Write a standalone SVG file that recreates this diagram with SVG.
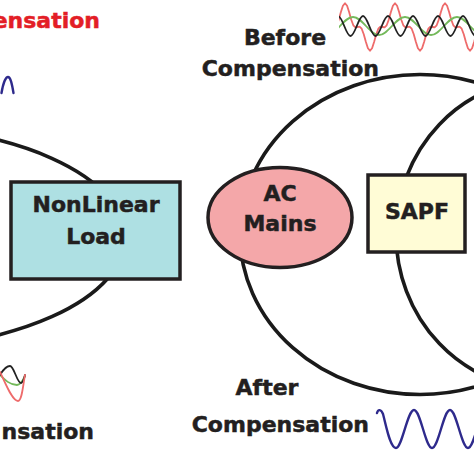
<svg xmlns="http://www.w3.org/2000/svg" xmlns:xlink="http://www.w3.org/1999/xlink" width="474" height="474" viewBox="0 0 474 474">
<style>
.lbl{font-family:"DejaVu Sans","Liberation Sans",sans-serif;font-weight:bold;font-size:22px;fill:#231f20;stroke:#231f20;stroke-width:0.5}
.red{fill:#e31e26;stroke:#e31e26}
.conn{fill:none;stroke:#1a1a1a;stroke-width:3.6}
.box{stroke:#231f20;stroke-width:3.5}
.wave{fill:none;stroke-width:1.8;stroke-linejoin:round;stroke-linecap:round}
.blue{stroke:#2e2a8c;stroke-width:2.4}
.wr{stroke:#ee6b6b}
.wk{stroke:#222222}
.wg{stroke:#74b95b}
</style>
<defs>
<polyline id="redp" class="wave wr" points="0,27 2.08,27.4 4.17,25.3 6.25,19.8 8.33,12.3 10.42,5.8 12.5,3.2 14.58,5.8 16.67,12.3 18.75,19.8 20.83,25.3 22.92,27.4 25,27 27.08,26.6 29.17,28.7 31.25,34.2 33.33,41.7 35.42,48.2 37.5,50.8 39.58,48.2 41.67,41.7 43.75,34.2 45.83,28.7 47.92,26.6 50,27"/>
<clipPath id="topclip"><rect x="339" y="0" width="140" height="60"/></clipPath>
</defs>
<rect width="474" height="474" fill="#ffffff"/>

<g id="connectors">
<ellipse class="conn" cx="-125" cy="237.5" rx="250" ry="112"/>
<ellipse class="conn" cx="420" cy="234.5" rx="180" ry="160"/>
<ellipse class="conn" cx="544" cy="234" rx="148" ry="155"/>
</g>

<g id="waveforms">
<g clip-path="url(#topclip)">
<use xlink:href="#redp" x="332.5"/>
<use xlink:href="#redp" x="382.5"/>
<use xlink:href="#redp" x="432.5"/>
<path class="wave wg" d="M327,35 C336.5,35 343.5,17 353,17 S369.5,35 379,35 S395.5,17 405,17 S421.5,35 431,35 S447.5,17 457,17 S473.5,35 483,35"/>
<path class="wave wk" d="M338,16 C342.55,16 345.95,36 350.5,36 S358.45,16 363,16 S370.95,36 375.5,36 S383.45,16 388,16 S395.95,36 400.5,36 S408.45,16 413,16 S420.95,36 425.5,36 S433.45,16 438,16 S445.95,36 450.5,36 S458.45,16 463,16 S470.95,36 475.5,36"/>
</g>
<path class="wave blue" d="M1.5,93 C3,84 5.5,77 8,77 C10.5,77 12,84 13.5,93"/>
<path class="wave wg" d="M0,375 C5,380 10,385 17,385 C21,385 23,380 25,376"/>
<path class="wave wk" d="M0,375 C3,370 6,366 10,366 C14,366 17,383 21,383 C23,383 24,378 25,375"/>
<path class="wave wr" d="M0,372 C5,382 12,401 18,401 C22,401 23,385 25,375"/>
<path class="wave blue" d="M377,413 C378,409 381,409 383,414 C386,425 390,448 396,448 S407.5,410 414,410 S425.5,448 432,448 S443.5,410 450,410 S461.5,448 468,448 S479.5,410 486,410"/>
</g>

<g id="texts">
<text class="lbl red" x="100" y="28" text-anchor="end" font-size="21">ensation</text>
<text class="lbl" x="285" y="45" text-anchor="middle">Before</text>
<text class="lbl" x="379" y="76" text-anchor="end">Compensation</text>
<text class="lbl" x="267" y="395" text-anchor="middle">After</text>
<text class="lbl" x="369" y="432" text-anchor="end">Compensation</text>
<text class="lbl" x="94" y="439" text-anchor="end">nsation</text>
</g>

<g id="nonlinear-load">
<rect class="box" x="11" y="182" width="169" height="97" fill="#aee0e3"/>
<text class="lbl" x="96" y="212" text-anchor="middle">NonLinear</text>
<text class="lbl" x="96" y="244" text-anchor="middle">Load</text>
</g>

<g id="ac-mains">
<ellipse class="box" cx="280" cy="217.5" rx="72" ry="50" fill="#f4a7a9"/>
<text class="lbl" x="280" y="201" text-anchor="middle">AC</text>
<text class="lbl" x="280" y="231" text-anchor="middle">Mains</text>
</g>

<g id="sapf">
<rect class="box" x="368" y="175" width="97" height="77" fill="#fffcd6"/>
<text class="lbl" x="417" y="219" text-anchor="middle">SAPF</text>
</g>
</svg>
